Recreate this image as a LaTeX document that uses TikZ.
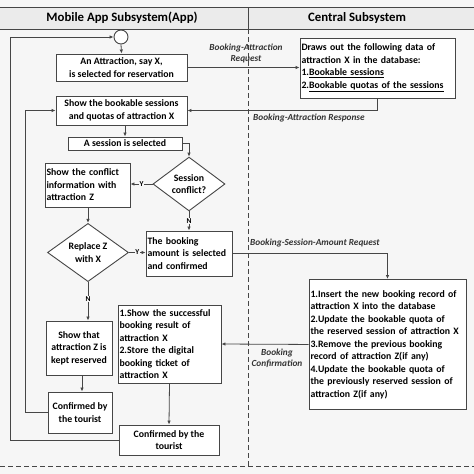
\documentclass[tikz,border=0pt]{standalone}
\usepackage{fontspec}
\setmainfont{Carlito}
\usetikzlibrary{arrows.meta,shapes.geometric,calc}
\definecolor{bgc}{RGB}{246,246,246}
\definecolor{lnc}{RGB}{70,70,70}
\tikzset{
  stepbox/.style={draw=lnc, fill=white, line width=0.9pt, inner xsep=1.5pt, inner ysep=2pt, font=\bfseries\fontsize{9.8}{12.5}\selectfont},
  leftbox/.style={stepbox, align=left},
  midbox/.style={stepbox, align=center},
  decision/.style={diamond, draw=lnc, fill=white, line width=0.9pt, inner sep=0pt, align=center, font=\bfseries\fontsize{9.8}{12.5}\selectfont},
  arr/.style={draw=lnc, line width=0.8pt, -{Latex[length=4pt,width=3.5pt]}},
  msg/.style={font=\bfseries\itshape\fontsize{9.3}{11}\selectfont, text=black!80, inner sep=0pt},
  yn/.style={font=\bfseries\fontsize{7.5}{9}\selectfont, fill=bgc, inner sep=0.6pt},
}
\begin{document}
\begin{tikzpicture}[x=1pt,y=-1pt]
\useasboundingbox (0,0) rectangle (474,474);
\fill[bgc] (0,0) rectangle (474,474);
% header
\fill[black!8] (0,7) rectangle (474,29);
\draw[lnc, line width=1pt] (0,7) -- (474,7);
\draw[lnc, line width=1pt] (0,29) -- (474,29);
\draw[lnc, line width=1pt] (248,7) -- (248,29);
\node[font=\bfseries\fontsize{12.8}{14}\selectfont] (h1) at (122,18) {Mobile App Subsystem(App)};
\node[font=\bfseries\fontsize{12.8}{14}\selectfont] (h2) at (357,18) {Central Subsystem};
\draw[lnc, line width=1pt, dash pattern=on 5pt off 3pt] (248,29) -- (248,466);
\draw[lnc, line width=1pt, dash pattern=on 5pt off 3pt] (0,466) -- (474,466);

% nodes
\node[circle, draw=lnc, fill=white, line width=0.9pt, minimum size=14pt, inner sep=0pt] (start) at (121,37) {};
\node[midbox, minimum width=131pt, minimum height=27pt] (A) at (121.5,67.5) {An Attraction, say X,\\is selected for reservation};
\node[leftbox, minimum width=155pt, minimum height=60pt, text width=152pt] (B) at (377.5,68) {Draws out the following data of\\attraction X in the database:\\1.\underline{Bookable sessions}\\2.\underline{Bookable quotas of the sessions}};
\node[midbox, minimum width=131pt, minimum height=29pt] (C) at (121.5,110.5) {Show the bookable sessions\\and quotas of attraction X};
\node[midbox, minimum width=114pt, minimum height=13pt, inner ysep=0.5pt] (D) at (125,143.5) {A session is selected};
\node[decision, minimum width=72pt, minimum height=42pt] (S) at (189,184) {Session\\conflict?};
\node[leftbox, minimum width=85pt, minimum height=44pt, text width=82pt] (E) at (87.5,185) {Show the conflict\\information with\\attraction Z};
\node[decision, minimum width=81pt, minimum height=55pt] (G) at (88,252.5) {Replace Z\\with X};
\node[leftbox, minimum width=86pt, minimum height=45pt, text width=83pt] (F) at (189,253.5) {The booking\\amount is selected\\and confirmed};
\node[midbox, minimum width=66pt, minimum height=54pt] (H) at (79,348) {Show that\\attraction Z is\\kept reserved};
\node[midbox, minimum width=64pt, minimum height=41pt] (I) at (80,412.5) {Confirmed by\\the tourist};
\node[leftbox, minimum width=103pt, minimum height=78pt, text width=100pt] (K) at (169.5,344) {1.Show the successful\\booking result of\\attraction X\\2.Store the digital\\booking ticket of\\attraction X};
\node[midbox, minimum width=100pt, minimum height=30pt] (L) at (169,440) {Confirmed by the\\tourist};
\node[leftbox, minimum width=157pt, minimum height=130pt, text width=154pt, anchor=north] (J) at (387.5,279) {1.Insert the new booking record of\\attraction X into the database\\2.Update the bookable quota of\\the reserved session of attraction X\\3.Remove the previous booking\\record of attraction Z(if any)\\4.Update the bookable quota of\\the previously reserved session of\\attraction Z(if any)\\[6pt]};

% labels
\node[msg, align=center] (m1) at (246,53) {Booking-Attraction\\Request};
\node[msg, anchor=west] (m2) at (253,118) {Booking-Attraction Response};
\node[msg, anchor=west] (m3) at (250,243) {Booking-Session-Amount Request};
\node[msg, align=center] (m4) at (277,358) {Booking\\Confirmation};

% connectors
\draw[arr] (start.south) -- (A.north);
\draw[arr] (A.east) -- (A.east -| B.west);
\draw[arr] (B.south) |- (C.east);
\draw[arr] (D.north |- C.south) -- (D.north);
\draw[arr] (D.east) -| (S.north);
\draw[arr] (S.west) -- node[yn]{Y} (S.west -| E.east);
\draw[arr] (S.south) -- node[yn]{N} (F.north);
\draw[arr] (E.south -| G.north) -- (G.north);
\draw[arr] (G.east) -- node[yn]{Y} (G.east -| F.west);
\draw[arr] (G.south) -- node[yn, pos=0.45]{N} (G.south |- H.north);
\draw[arr] ([xshift=3pt]H.south) -- ([xshift=3pt]H.south |- I.north);
\draw[arr] (I.west) -- ++(-22,0) |- (C.west);
\draw[arr] (L.west) -- ++(-108,0) |- (start.west);
\draw[arr] (F.east) -| (J.north);
\draw[arr] (J.west) -- (K.east);
\draw[arr] (K.south) -- (L.north);
\end{tikzpicture}
\end{document}
